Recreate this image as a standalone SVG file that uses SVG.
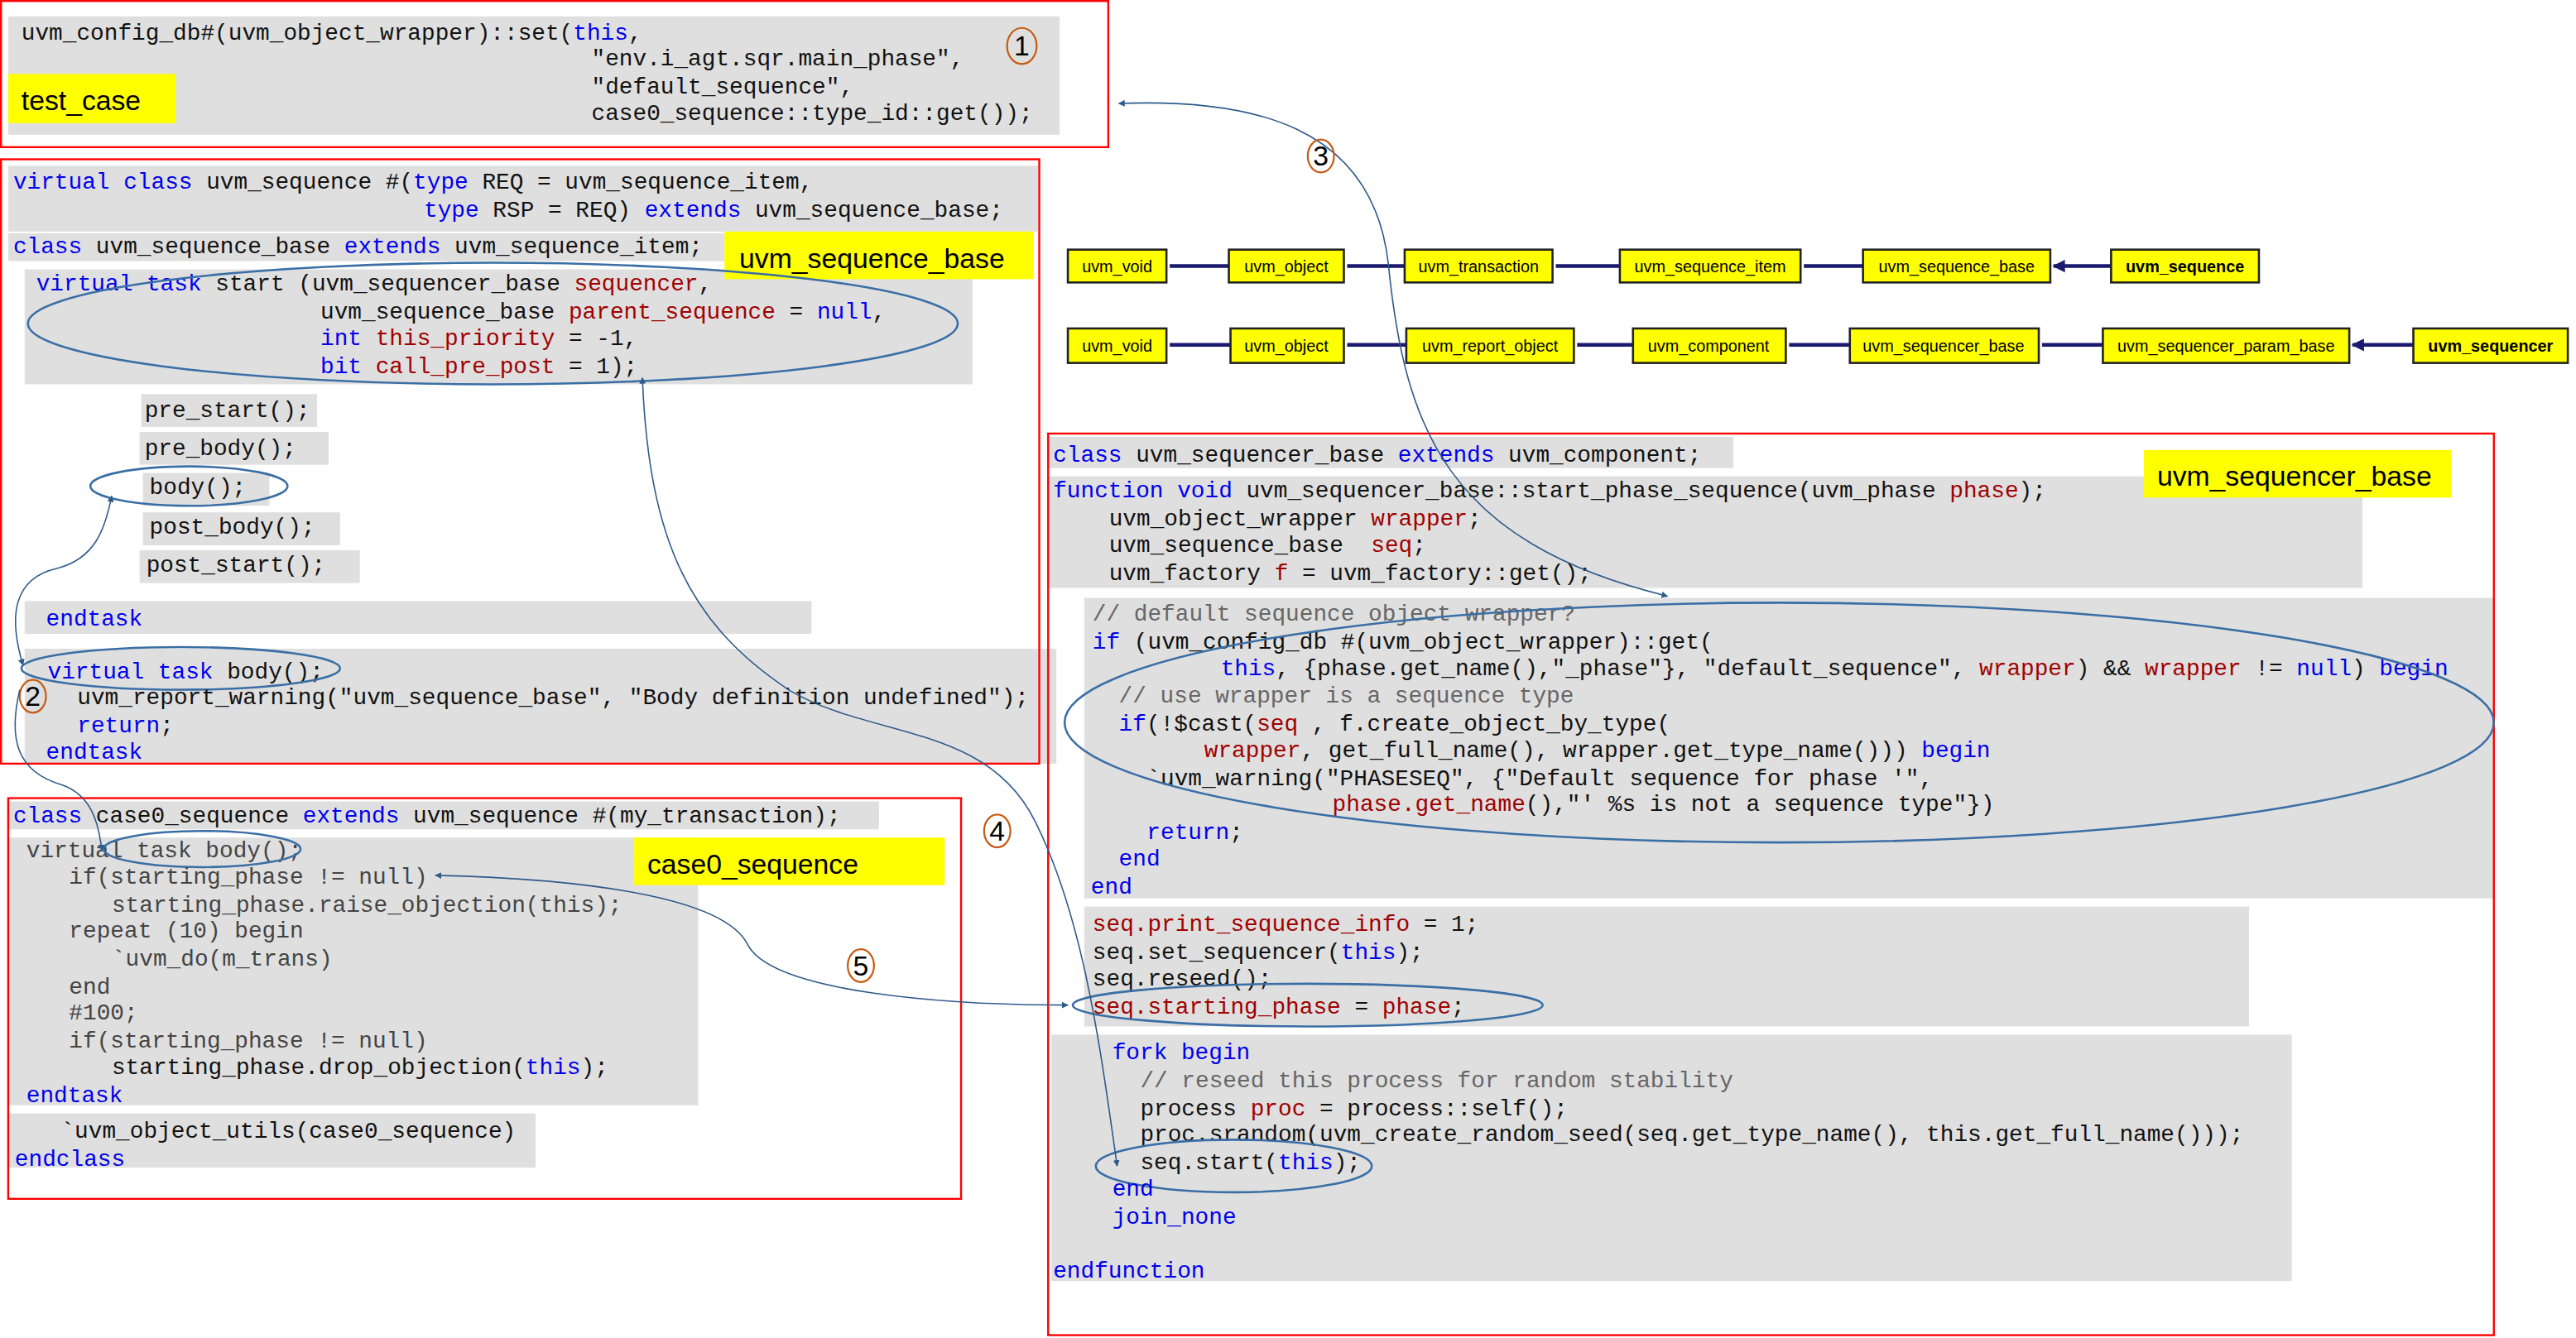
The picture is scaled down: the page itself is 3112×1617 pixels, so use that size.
<svg xmlns="http://www.w3.org/2000/svg" width="3112" height="1617" viewBox="0 0 3112 1617">
<style>
.c{font-family:"Liberation Mono",monospace;font-size:14px;fill:#111;white-space:pre}
.k{fill:#0000ee}.v{fill:#a00000}.m{fill:#666}.d{fill:#444}
.g{fill:#dfdfdf}
.rb{fill:none;stroke:#ff0000;stroke-width:1.2}
.y{fill:#ffff00}
.yl{font-family:"Liberation Sans",Arial,sans-serif;font-size:17px;fill:#000}
.el{fill:none;stroke:#3a6ea5;stroke-width:1.3}
.cn{fill:none;stroke:#2f5a8a;stroke-width:0.8}
.num{fill:none;stroke:#c55a11;stroke-width:1.1}
.nt{font-family:"Liberation Sans",Arial,sans-serif;font-size:17px;fill:#000;text-anchor:middle}
.cb{fill:#ffff00;stroke:#222;stroke-width:1.3}
.ct{font-family:"Liberation Sans",Arial,sans-serif;font-size:10px;fill:#000;text-anchor:middle}
.ca{stroke:#1a1a70;stroke-width:2.2;fill:none}
</style>
<defs>
<marker id="a" viewBox="0 0 10 10" refX="9" refY="5" markerWidth="5" markerHeight="5" orient="auto-start-reverse"><path d="M0,0L10,5L0,10z" fill="#2f5a8a"/></marker>
<marker id="n" viewBox="0 0 10 10" refX="9" refY="5" markerWidth="3.5" markerHeight="4" orient="auto"><path d="M0,0L10,5L0,10z" fill="#1a1a70"/></marker>
</defs>
<rect width="3112" height="1617" fill="#fff"/>
<g transform="scale(1.9847)">
<g id="test_case">
<rect class="g" x="5" y="10" width="640" height="72"/>
<rect class="rb" x="0.6" y="0.6" width="674" height="89"/>
<text class="c" x="13" y="24">uvm_config_db#(uvm_object_wrapper)::set(<tspan class="k">this</tspan>,</text>
<text class="c" x="360" y="40">"env.i_agt.sqr.main_phase",</text>
<text class="c" x="360" y="57">"default_sequence",</text>
<text class="c" x="360" y="73">case0_sequence::type_id::get());</text>
<rect class="y" x="5" y="45" width="102" height="30"/>
<text class="yl" x="13" y="67">test_case</text>
<ellipse class="num" cx="622" cy="28" rx="9" ry="11"/><text class="nt" x="622" y="34">1</text>
</g>
<g id="uvm_sequence_base">
<rect class="g" x="5" y="101" width="627" height="40"/>
<rect class="g" x="5" y="142" width="436" height="17"/>
<rect class="g" x="15" y="164" width="577" height="70"/>
<rect class="g" x="86" y="240" width="107" height="20"/>
<rect class="g" x="85" y="263" width="115" height="20"/>
<rect class="g" x="87" y="288" width="77" height="20"/>
<rect class="g" x="87" y="312" width="120" height="20"/>
<rect class="g" x="85" y="335" width="134" height="20"/>
<rect class="g" x="15" y="366" width="479" height="20"/>
<rect class="g" x="15" y="395" width="628" height="70"/>
<rect class="rb" x="0.6" y="97" width="632" height="368"/>
<text class="c" x="8" y="115"><tspan class="k">virtual class</tspan> uvm_sequence #(<tspan class="k">type</tspan> REQ = uvm_sequence_item,</text>
<text class="c" x="258" y="132"><tspan class="k">type</tspan> RSP = REQ) <tspan class="k">extends</tspan> uvm_sequence_base;</text>
<text class="c" x="8" y="154"><tspan class="k">class</tspan> uvm_sequence_base <tspan class="k">extends</tspan> uvm_sequence_item;</text>
<rect class="y" x="441" y="141" width="188" height="29"/>
<text class="yl" x="450" y="163">uvm_sequence_base</text>
<text class="c" x="22" y="177"><tspan class="k">virtual task</tspan> start (uvm_sequencer_base <tspan class="v">sequencer</tspan>,</text>
<text class="c" x="195" y="194">uvm_sequence_base <tspan class="v">parent_sequence</tspan> = <tspan class="k">null</tspan>,</text>
<text class="c" x="195" y="210"><tspan class="k">int</tspan> <tspan class="v">this_priority</tspan> = -1,</text>
<text class="c" x="195" y="227"><tspan class="k">bit</tspan> <tspan class="v">call_pre_post</tspan> = 1);</text>
<ellipse class="el" cx="300" cy="197" rx="283" ry="37"/>
<text class="c" x="88" y="254">pre_start();</text>
<text class="c" x="88" y="277">pre_body();</text>
<text class="c" x="91" y="301">body();</text>
<ellipse class="el" cx="115" cy="296" rx="60" ry="12"/>
<text class="c" x="91" y="325">post_body();</text>
<text class="c" x="89" y="348">post_start();</text>
<text class="c k" x="28" y="381">endtask</text>
<text class="c" x="29" y="413"><tspan class="k">virtual task</tspan> body();</text>
<ellipse class="el" cx="110" cy="407" rx="97" ry="13"/>
<text class="c" x="47" y="429">uvm_report_warning("uvm_sequence_base", "Body definition undefined");</text>
<text class="c k" x="47" y="446">return<tspan fill="#111">;</tspan></text>
<text class="c k" x="28" y="462">endtask</text>
<ellipse class="num" cx="20" cy="424" rx="8" ry="10"/><text class="nt" x="20" y="430">2</text>
</g>
<g id="case0_sequence">
<rect class="g" x="5" y="488" width="530" height="17"/>
<rect class="g" x="5" y="510" width="420" height="163"/>
<rect class="g" x="5" y="678" width="321" height="33"/>
<rect class="rb" x="5" y="486" width="580" height="244"/>
<text class="c" x="8" y="501"><tspan class="k">class</tspan> case0_sequence <tspan class="k">extends</tspan> uvm_sequence #(my_transaction);</text>
<text class="c d" x="16" y="522">virtual task body();</text>
<ellipse class="el" cx="123" cy="517" rx="60" ry="11"/>
<text class="c d" x="42" y="538">if(starting_phase != null)</text>
<text class="c d" x="68" y="555">starting_phase.raise_objection(this);</text>
<text class="c d" x="42" y="571">repeat (10) begin</text>
<text class="c d" x="68" y="588">`uvm_do(m_trans)</text>
<text class="c d" x="42" y="605">end</text>
<text class="c d" x="42" y="621">#100;</text>
<text class="c d" x="42" y="638">if(starting_phase != null)</text>
<text class="c" x="68" y="654">starting_phase.drop_objection(<tspan class="k">this</tspan>);</text>
<text class="c k" x="16" y="671">endtask</text>
<text class="c" x="37" y="693">`uvm_object_utils(case0_sequence)</text>
<text class="c k" x="9" y="710">endclass</text>
<rect class="y" x="386" y="510" width="189" height="29"/>
<text class="yl" x="394" y="532">case0_sequence</text>
</g>
<g id="uvm_sequencer_base">
<rect class="g" x="638" y="266" width="417" height="19"/>
<rect class="g" x="638" y="290" width="800" height="68"/>
<rect class="g" x="660" y="364" width="858" height="183"/>
<rect class="g" x="660" y="552" width="709" height="73"/>
<rect class="g" x="640" y="630" width="755" height="150"/>
<rect class="rb" x="638" y="264" width="880" height="549"/>
<text class="c" x="641" y="281"><tspan class="k">class</tspan> uvm_sequencer_base <tspan class="k">extends</tspan> uvm_component;</text>
<rect class="y" x="1305" y="274" width="187" height="29"/>
<text class="yl" x="1313" y="296">uvm_sequencer_base</text>
<text class="c" x="641" y="303"><tspan class="k">function void</tspan> uvm_sequencer_base::start_phase_sequence(uvm_phase <tspan class="v">phase</tspan>);</text>
<text class="c" x="675" y="320">uvm_object_wrapper <tspan class="v">wrapper</tspan>;</text>
<text class="c" x="675" y="336">uvm_sequence_base  <tspan class="v">seq</tspan>;</text>
<text class="c" x="675" y="353">uvm_factory <tspan class="v">f</tspan> = uvm_factory::get();</text>
<text class="c m" x="665" y="378">// default sequence object wrapper?</text>
<text class="c" x="665" y="395"><tspan class="k">if</tspan> (uvm_config_db #(uvm_object_wrapper)::get(</text>
<text class="c" x="743" y="411"><tspan class="k">this</tspan>, {phase.get_name(),"_phase"}, "default_sequence", <tspan class="v">wrapper</tspan>) &amp;&amp; <tspan class="v">wrapper</tspan> != <tspan class="k">null</tspan>) <tspan class="k">begin</tspan></text>
<text class="c m" x="681" y="428">// use wrapper is a sequence type</text>
<text class="c" x="681" y="445"><tspan class="k">if</tspan>(!$cast(<tspan class="v">seq</tspan> , f.create_object_by_type(</text>
<text class="c" x="733" y="461"><tspan class="v">wrapper</tspan>, get_full_name(), wrapper.get_type_name())) <tspan class="k">begin</tspan></text>
<text class="c" x="698" y="478">`uvm_warning("PHASESEQ", {"Default sequence for phase '",</text>
<text class="c" x="811" y="494"><tspan class="v">phase.get_name</tspan>(),"' %s is not a sequence type"})</text>
<text class="c k" x="698" y="511">return<tspan fill="#111">;</tspan></text>
<text class="c k" x="681" y="527">end</text>
<text class="c k" x="664" y="544">end</text>
<ellipse class="el" cx="1083" cy="440" rx="435" ry="73"/>
<text class="c v" x="665" y="567">seq.print_sequence_info<tspan fill="#111"> = 1;</tspan></text>
<text class="c" x="665" y="584">seq.set_sequencer(<tspan class="k">this</tspan>);</text>
<text class="c" x="665" y="600">seq.reseed();</text>
<text class="c v" x="665" y="617">seq.starting_phase<tspan fill="#111"> = </tspan>phase<tspan fill="#111">;</tspan></text>
<ellipse class="el" cx="796" cy="612" rx="143" ry="13"/>
<text class="c k" x="677" y="645">fork begin</text>
<text class="c m" x="694" y="662">// reseed this process for random stability</text>
<text class="c" x="694" y="679">process <tspan class="v">proc</tspan> = process::self();</text>
<text class="c" x="694" y="695">proc.srandom(uvm_create_random_seed(seq.get_type_name(), this.get_full_name()));</text>
<text class="c" x="694" y="712">seq.start(<tspan class="k">this</tspan>);</text>
<ellipse class="el" cx="751" cy="710" rx="84" ry="16"/>
<text class="c k" x="677" y="728">end</text>
<text class="c k" x="677" y="745">join_none</text>
<text class="c k" x="641" y="778">endfunction</text>
</g>
<g id="class_diagram">
<path class="ca" d="M748,162H712M855,162H820M986,162H947M1134,162H1098M1285,162H1250" marker-end="url(#n)"/>
<path class="ca" d="M749,210H712M856,210H820M994,210H960M1126,210H1089M1280,210H1243M1469,210H1432" marker-end="url(#n)"/>
<g id="r1_void"><rect class="cb" x="650" y="152" width="60" height="20"/><text class="ct" x="680" y="166">uvm_void</text></g>
<g id="r1_object"><rect class="cb" x="748" y="152" width="70" height="20"/><text class="ct" x="783" y="166">uvm_object</text></g>
<g id="r1_transaction"><rect class="cb" x="855" y="152" width="90" height="20"/><text class="ct" x="900" y="166">uvm_transaction</text></g>
<g id="r1_seq_item"><rect class="cb" x="986" y="152" width="110" height="20"/><text class="ct" x="1041" y="166">uvm_sequence_item</text></g>
<g id="r1_seq_base"><rect class="cb" x="1134" y="152" width="114" height="20"/><text class="ct" x="1191" y="166">uvm_sequence_base</text></g>
<g id="r1_seq"><rect class="cb" x="1285" y="152" width="90" height="20"/><text class="ct" x="1330" y="166" fill="#ff0000" font-weight="bold">uvm_sequence</text></g>
<g id="r2_void"><rect class="cb" x="650" y="200" width="60" height="21"/><text class="ct" x="680" y="214">uvm_void</text></g>
<g id="r2_object"><rect class="cb" x="749" y="200" width="69" height="21"/><text class="ct" x="783" y="214">uvm_object</text></g>
<g id="r2_report"><rect class="cb" x="856" y="200" width="102" height="21"/><text class="ct" x="907" y="214">uvm_report_object</text></g>
<g id="r2_component"><rect class="cb" x="994" y="200" width="93" height="21"/><text class="ct" x="1040" y="214">uvm_component</text></g>
<g id="r2_sqr_base"><rect class="cb" x="1126" y="200" width="115" height="21"/><text class="ct" x="1183" y="214">uvm_sequencer_base</text></g>
<g id="r2_param"><rect class="cb" x="1280" y="200" width="150" height="21"/><text class="ct" x="1355" y="214">uvm_sequencer_param_base</text></g>
<g id="r2_sqr"><rect class="cb" x="1469" y="200" width="94" height="21"/><text class="ct" x="1516" y="214" fill="#ff0000" font-weight="bold">uvm_sequencer</text></g>
</g>
<g id="connectors">
<path class="cn" d="M681,63C760,60 835,75 845,160C855,260 880,330 1015,363" marker-start="url(#a)" marker-end="url(#a)"/>
<path class="cn" d="M14,405C5,375 8,352 35,346C58,340 64,322 68,302" marker-start="url(#a)" marker-end="url(#a)"/>
<path class="cn" d="M12,420C5,450 10,470 38,478C55,484 60,500 62,518" marker-end="url(#a)"/>
<path class="cn" d="M391,230C395,330 420,380 480,420C530,450 600,440 630,500C660,560 670,640 680,710" marker-start="url(#a)" marker-end="url(#a)"/>
<path class="cn" d="M265,533C350,535 440,545 455,575C470,605 580,612 650,612" marker-start="url(#a)" marker-end="url(#a)"/>
<ellipse class="num" cx="804" cy="95" rx="8" ry="10"/><text class="nt" x="804" y="101">3</text>
<ellipse class="num" cx="607" cy="506" rx="8" ry="10"/><text class="nt" x="607" y="512">4</text>
<ellipse class="num" cx="524" cy="588" rx="8" ry="10"/><text class="nt" x="524" y="594">5</text>
</g>
</g>
</svg>
